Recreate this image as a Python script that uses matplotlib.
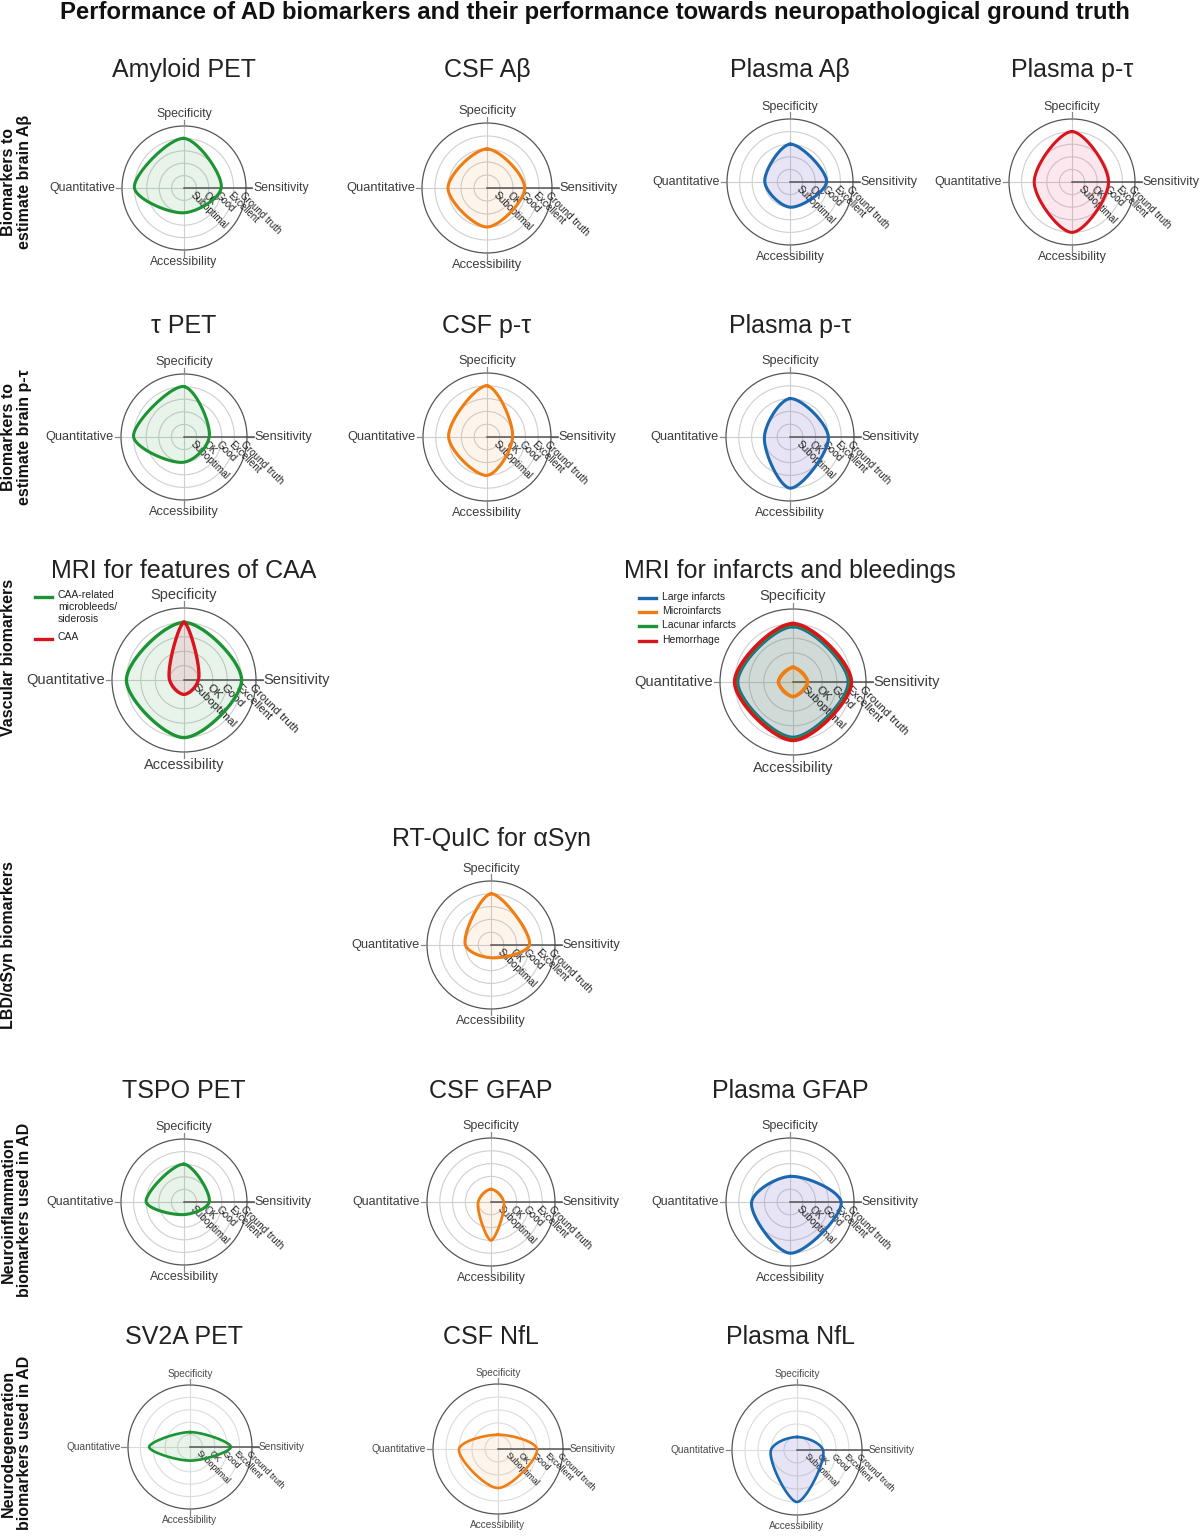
import numpy as np
import matplotlib
matplotlib.use('Agg')
import matplotlib.pyplot as plt
from matplotlib import font_manager
from matplotlib.transforms import offset_copy
from matplotlib.lines import Line2D

# ---------------- data ----------------
axis_labels = ['Specificity', 'Sensitivity', 'Accessibility', 'Quantitative']
axis_angles_deg = [90, 0, 270, 180]
level_labels = ['Suboptimal', 'OK', 'Good', 'Excellent', 'Ground truth']
level_values = [1, 2, 3, 4, 5]

# values per series: [Specificity, Sensitivity, Accessibility, Quantitative]
amyloid_pet = [4, 3, 2, 4]
csf_abeta = [3, 2.9, 3, 3]
plasma_abeta = [3, 2.9, 2, 2]
plasma_ptau_abeta = [4, 2.9, 4, 3]
tau_pet = [4, 2, 2, 4]
csf_ptau = [4, 2, 3, 3]
plasma_ptau_tau = [3, 3, 4, 2]
caa_microbleeds = [4, 4, 4, 4]
caa = [4, 1, 1, 1]
large_infarcts = [3.8, 3.8, 3.8, 3.8]
microinfarcts = [1, 1, 1, 1]
lacunar_infarcts = [3.9, 3.9, 3.9, 3.9]
hemorrhage = [4, 4, 4, 4]
rtquic_asyn = [4, 3, 1, 2]
tspo_pet = [3, 2, 1, 3]
csf_gfap = [1, 1, 3, 1]
plasma_gfap = [2, 4, 4, 3]
sv2a_pet = [1.2, 3.3, 1.1, 3.3]
csf_nfl = [1.1, 3, 3, 3]
plasma_nfl = [1, 2, 4, 2]

caa_legend = ['CAA-related\nmicrobleeds/\nsiderosis', 'CAA']
mri_legend = ['Large infarcts', 'Microinfarcts', 'Lacunar infarcts', 'Hemorrhage']

row_labels = ['Biomarkers to\nestimate brain Aβ', 'Biomarkers to\nestimate brain p-τ',
              'Vascular biomarkers', 'LBD/αSyn biomarkers',
              'Neuroinflammation\nbiomarkers used in AD',
              'Neurodegeneration\nbiomarkers used in AD']

main_title = 'Performance of AD biomarkers and their performance towards neuropathological ground truth'

# ---------------- style ----------------
W, H = 1200, 1537
DPI = 100
avail = {f.name for f in font_manager.fontManager.ttflist}
FONT = 'Liberation Sans' if 'Liberation Sans' in avail else 'DejaVu Sans'
plt.rcParams['font.family'] = [FONT, 'DejaVu Sans']

GREEN = '#1b9433'
ORANGE = '#f07d12'
BLUE = '#1c68b0'
RED = '#d8141d'
FILL = {GREEN: ((30, 150, 54), 0.10), ORANGE: ((240, 125, 16), 0.08),
        BLUE: ((110, 100, 200), 0.17), RED: ((230, 60, 110), 0.12)}

fig = plt.figure(figsize=(W / DPI, H / DPI), dpi=DPI)
fig.patch.set_facecolor('white')


def rgba(c, a):
    return (c[0] / 255, c[1] / 255, c[2] / 255, a)


def plotly_smooth_closed(xs, ys, s=1.0, n=80):
    pts = np.column_stack([xs, ys]).astype(float)
    N = len(pts)
    tang = []
    for i in range(N):
        prev, this, nxt = pts[i - 1], pts[i], pts[(i + 1) % N]
        d1 = prev - this
        d2 = nxt - this
        d1a = np.hypot(*d1) ** 0.5
        d2a = np.hypot(*d2) ** 0.5
        num = (d2a ** 2 * d1 - d1a ** 2 * d2) * s
        den1 = 3 * d2a * (d1a + d2a)
        den2 = 3 * d1a * (d1a + d2a)
        tang.append((this + num / den1, this - num / den2))
    t = np.linspace(0, 1, n, endpoint=False)[:, None]
    segs = []
    for i in range(N):
        p0, p3 = pts[i], pts[(i + 1) % N]
        c1, c2 = tang[i][1], tang[(i + 1) % N][0]
        segs.append((1 - t) ** 3 * p0 + 3 * (1 - t) ** 2 * t * c1
                    + 3 * (1 - t) * t ** 2 * c2 + t ** 3 * p3)
    out = np.vstack(segs + [pts[:1]])
    return out[:, 0], out[:, 1]


def draw_panel(p):
    cx, cy, R = p['cx'], p['cy'], p['R']
    ax = fig.add_axes([(cx - R) / W, 1 - (cy + R) / H, 2 * R / W, 2 * R / H],
                      projection='polar')
    ax.set_facecolor('none')
    ax.set_ylim(0, 5)
    ax.set_yticks(level_values[:-1])
    ax.set_yticklabels([])
    ax.set_xticks(np.deg2rad(axis_angles_deg))
    ax.set_xticklabels([])
    ax.tick_params(length=0, pad=0)
    ax.grid(True, color=p.get('grid', '#cfcfcf'), lw=0.8)
    ax.spines['polar'].set_color('#555555')
    ax.spines['polar'].set_linewidth(0.9)
    ext = 6.5 / R * 5
    angs = np.deg2rad(axis_angles_deg)
    for a in angs:
        ax.plot([a, a], [5, 5 + ext], color='#888888', lw=0.9, clip_on=False, zorder=3)
    ax.plot([0, 0], [0, 5 + ext], color='#555555', lw=1.1, clip_on=False, zorder=3)

    fills = p.get('fills')
    curves = []
    for k, (vals, col) in enumerate(zip(p['series'], p['colors'])):
        v = np.asarray(vals, float)
        xs = v * np.cos(angs)
        ys = v * np.sin(angs)
        sx, sy = plotly_smooth_closed(xs, ys)
        th = np.unwrap(np.arctan2(sy, sx))
        rr = np.hypot(sx, sy)
        base, alpha = FILL[col]
        if fills is not None:
            alpha = fills[k]
        ax.fill(th, rr, color=rgba(base, alpha), lw=0, zorder=2)
        curves.append((th, rr, col))
    for th, rr, col in curves:
        ax.plot(th, rr, color=col, lw=p['lw'], zorder=4, solid_joinstyle='round')

    # axis labels
    off = p.get('off', 6)
    lab_color = p.get('labc', '#3c3c3c')
    placements = {90: (0, off, 'center', 'bottom'), 0: (off + 1, 0, 'left', 'center'),
                  270: (0, -off, 'center', 'top'), 180: (-off - 1, 0, 'right', 'center')}
    for lab, adeg in zip(axis_labels, axis_angles_deg):
        dx, dy, ha, va = placements[adeg]
        tr = offset_copy(ax.transData, fig=fig, x=dx, y=dy, units='dots')
        ax.text(np.deg2rad(adeg), 5, lab, transform=tr, ha=ha, va=va,
                fontsize=p['lab'], color=lab_color, clip_on=False)
    # level labels
    tr = offset_copy(ax.transData, fig=fig, x=-1, y=-2, units='dots')
    for lv, lt in zip(level_values, level_labels):
        ax.text(0, lv, lt, transform=tr, rotation=-45, rotation_mode='anchor',
                ha='left', va='top', fontsize=p['tick'], color='#222222', clip_on=False)
    # title
    fig.text(p.get('tx', cx) / W, 1 - p['ty'] / H, p['title'], ha='center', va='center',
             fontsize=18, color='#222222')
    return ax


panels = [
    dict(title='Amyloid PET', cx=184, cy=188, R=62, ty=70, series=[amyloid_pet], colors=[GREEN], lab=8.8, tick=6.9, lw=2.2),
    dict(title='CSF Aβ', cx=487, cy=188, R=65, ty=70, series=[csf_abeta], colors=[ORANGE], lab=9.3, tick=7.3, lw=2.2),
    dict(title='Plasma Aβ', cx=790, cy=182, R=63, ty=70, series=[plasma_abeta], colors=[BLUE], lab=9.0, tick=7.1, lw=2.2),
    dict(title='Plasma p-τ', cx=1072, cy=182, R=63, ty=70, series=[plasma_ptau_abeta], colors=[RED], lab=9.0, tick=7.1, lw=2.2),
    dict(title='τ PET', cx=184, cy=437, R=63, ty=326, series=[tau_pet], colors=[GREEN], lab=9.2, tick=7.2, lw=2.2),
    dict(title='CSF p-τ', cx=487, cy=437, R=64, ty=326, series=[csf_ptau], colors=[ORANGE], lab=9.2, tick=7.2, lw=2.2),
    dict(title='Plasma p-τ', cx=790, cy=437, R=64, ty=326, series=[plasma_ptau_tau], colors=[BLUE], lab=9.2, tick=7.2, lw=2.2),
    dict(title='MRI for features of CAA', cx=184, cy=680, R=72, ty=571, series=[caa_microbleeds, caa],
         colors=[GREEN, RED], lab=10.5, tick=8.2, lw=2.4),
    dict(title='MRI for infarcts and bleedings', cx=793, cy=682, R=73, ty=571, tx=790,
         series=[large_infarcts, microinfarcts, lacunar_infarcts, hemorrhage],
         colors=[BLUE, ORANGE, GREEN, RED], fills=[0.10, 0.10, 0.15, 0.03], lab=10.5, tick=8.2, lw=2.6),
    dict(title='RT-QuIC for αSyn', cx=491, cy=945, R=64, ty=839, series=[rtquic_asyn], colors=[ORANGE], lab=9.2, tick=7.3, lw=2.2),
    dict(title='TSPO PET', cx=184, cy=1202, R=63, ty=1091, series=[tspo_pet], colors=[GREEN], lab=9.0, tick=7.2, lw=2.2),
    dict(title='CSF GFAP', cx=491, cy=1202, R=64, ty=1091, series=[csf_gfap], colors=[ORANGE], lab=9.0, tick=7.2, lw=2.0),
    dict(title='Plasma GFAP', cx=790, cy=1202, R=64, ty=1091, series=[plasma_gfap], colors=[BLUE], lab=9.0, tick=7.2, lw=2.2),
    dict(title='SV2A PET', cx=190, cy=1447, R=62, ty=1337, tx=184, series=[sv2a_pet], colors=[GREEN], lab=7.3, tick=6.3, lw=1.9, grid='#dcdcdc', labc='#4a4a4a'),
    dict(title='CSF NfL', cx=498, cy=1449, R=65, ty=1337, tx=491, series=[csf_nfl], colors=[ORANGE], lab=7.3, tick=6.3, lw=1.9, grid='#dcdcdc', labc='#4a4a4a'),
    dict(title='Plasma NfL', cx=797, cy=1450, R=65, ty=1337, tx=790, series=[plasma_nfl], colors=[BLUE], lab=7.3, tick=6.3, lw=1.9, grid='#dcdcdc', labc='#4a4a4a'),
]

for p in panels:
    draw_panel(p)

# main title
fig.text(595 / W, 1 - 12 / H, main_title, ha='center', va='center', fontsize=17.2,
         fontweight='bold', color='#111111')

# row labels
row_label_y = [182, 437, 657, 945, 1210, 1443]
for lab, y in zip(row_labels, row_label_y):
    fig.text(1 / W, 1 - y / H, lab, rotation=90, ha='left', va='center',
             multialignment='center', fontsize=11.5, fontweight='bold', color='#111111',
             linespacing=1.1)


# legends (figure pixel coordinates)
def pix_legend(x0, ys, labels, colors, fs, llen=17, lw=2.4):
    for y, lab, col in zip(ys, labels, colors):
        fig.add_artist(Line2D([x0 / W, (x0 + llen) / W], [1 - y / H, 1 - y / H],
                              color=col, lw=lw, transform=fig.transFigure))
        fig.text((x0 + llen + 6) / W, 1 - (y - 6.5) / H, lab, ha='left', va='top',
                 fontsize=fs, color='#222222', linespacing=1.2)


pix_legend(35, [597, 639], caa_legend, [GREEN, RED], 7.5)
pix_legend(639, [598, 612, 626, 641], mri_legend, [BLUE, ORANGE, GREEN, RED], 7.5)

fig.savefig('out.png', dpi=DPI, facecolor='white')
